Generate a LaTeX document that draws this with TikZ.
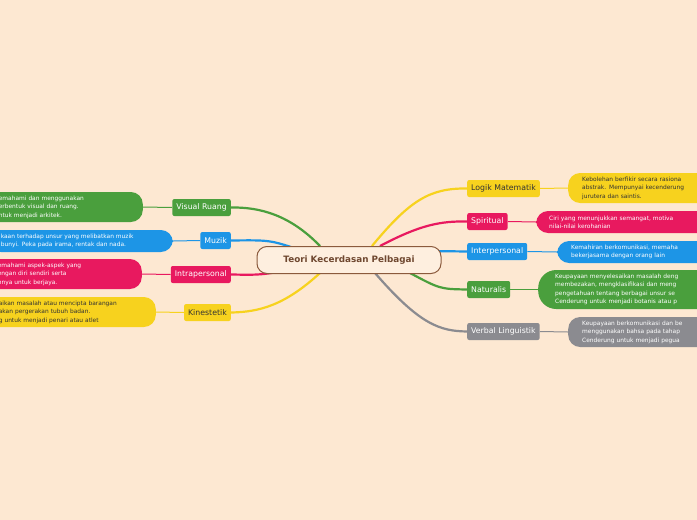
\documentclass[tikz,border=0pt]{standalone}
\usepackage{fontspec}
\setmainfont{DejaVu Sans}
\begin{document}
\begin{tikzpicture}[x=1pt,y=-1pt,
 lbl/.style={rounded corners=2pt,text=white,font=\fontsize{7.8}{9}\selectfont,minimum height=17pt,inner xsep=4pt,inner ysep=0pt},
 desc/.style={rounded corners=12pt,text=white,font=\fontsize{5.9}{8.4}\selectfont,align=left,inner xsep=14pt,inner ysep=0pt},
 centre/.style={draw=brn,line width=1pt,fill=bg!70!white,rounded corners=10pt,minimum width=184pt,minimum height=27pt,font=\bfseries\fontsize{8.8}{10}\selectfont,text=brn!80!black},
 big/.style={line width=2.2pt},
 thin/.style={line width=1pt}]
\definecolor{bg}{HTML}{FDE8D2}
\definecolor{cy}{HTML}{F7D21E}
\definecolor{cp}{HTML}{E8195F}
\definecolor{cb}{HTML}{1D95E6}
\definecolor{cg}{HTML}{4A9F3D}
\definecolor{cgr}{HTML}{8B8B90}
\definecolor{brn}{HTML}{8B5A3C}
\fill[bg] (0,0) rectangle (697,520);
\useasboundingbox (0,0) rectangle (697,520);
\clip (0,0) rectangle (697,520);
% right labels
\node[lbl,fill=cy,text=black!80,anchor=west] (lm) at (467,188.5) {Logik Matematik};
\node[lbl,fill=cp,anchor=west] (sp) at (467,221.5) {Spiritual};
\node[lbl,fill=cb,anchor=west] (ip) at (467,251.5) {Interpersonal};
\node[lbl,fill=cg,anchor=west] (na) at (467,289.5) {Naturalis};
\node[lbl,fill=cgr,anchor=west] (vl) at (467,331.5) {Verbal Linguistik};
% left labels
\node[lbl,fill=cg,anchor=east] (vr) at (231,207.5) {Visual Ruang};
\node[lbl,fill=cb,anchor=east] (mz) at (231,240.5) {Muzik};
\node[lbl,fill=cp,anchor=east] (ia) at (231,274.5) {Intrapersonal};
\node[lbl,fill=cy,text=black!80,anchor=east] (ki) at (231,312.5) {Kinestetik};
% right descs
\node[desc,fill=cy,text=black!80,anchor=west,minimum height=30pt,text width=200pt] (dlm) at (568,188) {Kebolehan berfikir secara rasiona\\abstrak. Mempunyai kecenderung\\jurutera dan saintis.};
\node[desc,fill=cp,anchor=west,minimum height=22pt,text width=200pt,inner xsep=13pt] (dsp) at (536,222) {Ciri yang menunjukkan semangat, motiva\\nilai-nilai kerohanian};
\node[desc,fill=cb,anchor=west,minimum height=22pt,text width=200pt] (dip) at (557,252) {Kemahiran berkomunikasi, memaha\\bekerjasama dengan orang lain};
\node[desc,fill=cg,anchor=west,minimum height=39pt,text width=200pt,rounded corners=18pt,inner xsep=17pt] (dna) at (538,289.5) {Keupayaan menyelesaikan masalah deng\\membezakan, mengklasifikasi dan meng\\pengetahuan tentang berbagai unsur se\\Cenderung untuk menjadi botanis atau p};
\node[desc,fill=cgr,anchor=west,minimum height=30pt,text width=200pt] (dvl) at (568,332) {Keupayaan berkomunikasi dan be\\menggunakan bahsa pada tahap\\Cenderung untuk menjadi pegua};
% left descs
\node[desc,fill=cg,anchor=east,minimum height=30pt,text width=130pt] (dvr) at (143,207) {emahami dan menggunakan\\erbentuk visual dan ruang.\\ntuk menjadi arkitek.};
\node[desc,fill=cb,anchor=east,minimum height=22pt,text width=160pt,inner xsep=12pt] (dmz) at (173,241) {kaan terhadap unsur yang melibatkan muzik\\bunyi. Peka pada irama, rentak dan nada.};
\node[desc,fill=cp,anchor=east,minimum height=30pt,text width=130pt] (dia) at (142,274) {emahami aspek-aspek yang\\engan diri sendiri serta\\nnya untuk berjaya.};
\node[desc,fill=cy,text=black!80,anchor=east,minimum height=30pt,text width=143pt] (dki) at (156,312) {aikan masalah atau mencipta barangan\\akan pergerakan tubuh badan.\\g untuk menjadi penari atau atlet};
% thin links
\draw[thin,cy] (lm.east) -- (dlm.west);
\draw[thin,cp] (sp.east) -- (dsp.west);
\draw[thin,cb] (ip.east) -- (dip.west);
\draw[thin,cg] (na.east) -- (dna.west);
\draw[thin,cgr] (vl.east) -- (dvl.west);
\draw[thin,cg] (vr.west) -- (dvr.east);
\draw[thin,cb] (mz.west) -- (dmz.east);
\draw[thin,cp] (ia.west) -- (dia.east);
\draw[thin,cy] (ki.west) -- (dki.east);
% big branches
\draw[big,cy] (372,246) .. controls (410,200) and (430,188) .. (lm.west);
\draw[big,cp] (380,246) .. controls (420,225) and (440,221) .. (sp.west);
\draw[big,cb] (400,252) .. controls (430,251) .. (ip.west);
\draw[big,cg] (410,273) .. controls (440,289) .. (na.west);
\draw[big,cgr] (375,273) .. controls (420,325) and (440,331) .. (vl.west);
\draw[big,cg] (320,246) .. controls (290,215) and (260,207) .. (vr.east);
\draw[big,cb] (300,250) .. controls (270,240) .. (mz.east);
\draw[big,cp] (290,270) .. controls (260,275) .. (ia.east);
\draw[big,cy] (320,273) .. controls (285,305) and (260,312) .. (ki.east);
% center
\node[centre] (c) at (349,260) {Teori Kecerdasan Pelbagai};
\end{tikzpicture}
\end{document}
